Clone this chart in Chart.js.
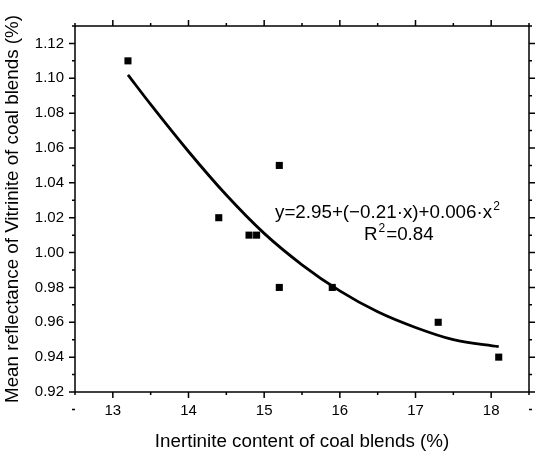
<!DOCTYPE html>
<html>
<head>
<meta charset="utf-8">
<script src="https://cdn.jsdelivr.net/npm/chart.js@4.4.1/dist/chart.umd.min.js"></script>
<style>
html, body { margin: 0; padding: 0; background: #fff; }
#wrap { width: 550px; height: 456px; }
</style>
</head>
<body>
<div id="wrap"><canvas id="chart"></canvas></div>
<script>
// measured blends
const inertinite = [13.2, 14.4, 14.8, 14.9, 15.2, 15.2, 15.9, 17.3, 18.1];
const reflectance = [1.11, 1.02, 1.01, 1.01, 1.05, 0.98, 0.98, 0.96, 0.94];

// fitted curve
const fitX = [13.2, 13.5, 14.0, 14.5, 15.0, 15.5, 16.0, 16.5, 17.0, 17.5, 18.1];
const fitY = [1.102, 1.085, 1.058, 1.033, 1.011, 0.993, 0.978, 0.966, 0.957, 0.950, 0.946];

const xTicks = [13, 14, 15, 16, 17, 18];
const yTicks = [0.92, 0.94, 0.96, 0.98, 1.00, 1.02, 1.04, 1.06, 1.08, 1.10, 1.12];

const FONT = '"Liberation Sans", Arial, sans-serif';
const MAJOR = 6;
const MINOR = 3;

function toPoints(xs, ys) {
    return xs.map(function (x, i) { return { x: x, y: ys[i] }; });
}

function minorOf(ticks) {
    const step = ticks[1] - ticks[0];
    const out = [ticks[0] - step / 2];
    ticks.forEach(function (v) { out.push(v + step / 2); });
    return out;
}

// frame on all four sides with major and minor ticks pointing out
const frameTicks = {
    id: 'frameTicks',
    afterDraw: function (chart) {
        const ctx = chart.ctx;
        const a = chart.chartArea;
        const xs = chart.scales.x;
        const ys = chart.scales.y;

        function xMark(v, len) {
            const px = xs.getPixelForValue(v);
            ctx.moveTo(px, a.bottom);
            ctx.lineTo(px, a.bottom + len);
            ctx.moveTo(px, a.top);
            ctx.lineTo(px, a.top - len);
        }
        function yMark(v, len) {
            const py = ys.getPixelForValue(v);
            ctx.moveTo(a.left, py);
            ctx.lineTo(a.left - len, py);
            ctx.moveTo(a.right, py);
            ctx.lineTo(a.right + len, py);
        }

        ctx.save();
        ctx.strokeStyle = '#000';
        ctx.lineWidth = 1.5;
        ctx.beginPath();
        ctx.rect(a.left, a.top, a.right - a.left, a.bottom - a.top);
        xTicks.forEach(function (v) { xMark(v, MAJOR); });
        yTicks.forEach(function (v) { yMark(v, MAJOR); });
        minorOf(xTicks).forEach(function (v) { xMark(v, MINOR); });
        minorOf(yTicks).forEach(function (v) {
            if (v <= ys.max + 1e-9) yMark(v, MINOR);
        });
        ctx.stroke();
        ctx.restore();
    }
};

const fitLabel = {
    id: 'fitLabel',
    afterDatasetsDraw: function (chart, args, opts) {
        const ctx = chart.ctx;
        const xs = chart.scales.x;
        const ys = chart.scales.y;
        const big = '18.8px ' + FONT;
        const small = '12px ' + FONT;
        ctx.save();
        ctx.fillStyle = '#000';
        ctx.textBaseline = 'alphabetic';
        ctx.textAlign = 'left';

        let x = xs.getPixelForValue(opts.eqAt[0]);
        let y = ys.getPixelForValue(opts.eqAt[1]);
        const eq = 'y=2.95+(\u22120.21\u00b7x)+0.006\u00b7x';
        ctx.font = big;
        ctx.fillText(eq, x, y);
        const w = ctx.measureText(eq).width;
        ctx.font = small;
        ctx.fillText('2', x + w + 1, y - 8);

        x = xs.getPixelForValue(opts.r2At[0]);
        y = ys.getPixelForValue(opts.r2At[1]);
        ctx.font = big;
        ctx.fillText('R', x, y);
        const wr = ctx.measureText('R').width;
        ctx.font = small;
        ctx.fillText('2', x + wr + 1, y - 8);
        const w2 = ctx.measureText('2').width;
        ctx.font = big;
        ctx.fillText('=0.84', x + wr + w2 + 2, y);
        ctx.restore();
    }
};

new Chart(document.getElementById('chart'), {
    type: 'scatter',
    data: {
        datasets: [
            {
                label: 'Blends',
                data: toPoints(inertinite, reflectance),
                pointStyle: 'rect',
                pointRadius: 5,
                borderWidth: 0,
                backgroundColor: '#000',
                borderColor: '#000'
            },
            {
                label: 'Fit',
                data: toPoints(fitX, fitY),
                showLine: true,
                pointRadius: 0,
                borderColor: '#000',
                borderWidth: 2.8,
                cubicInterpolationMode: 'monotone'
            }
        ]
    },
    options: {
        responsive: true,
        maintainAspectRatio: false,
        animation: false,
        layout: { padding: { top: 26, right: 21, left: 0, bottom: 0 } },
        scales: {
            x: {
                type: 'linear',
                min: 12.5,
                max: 18.5,
                afterBuildTicks: function (s) { s.ticks = xTicks.map(function (v) { return { value: v }; }); },
                afterFit: function (s) { s.height = 64; },
                grid: { display: false, drawTicks: true, tickLength: MAJOR },
                border: { display: false },
                ticks: {
                    color: '#000',
                    padding: 4,
                    maxRotation: 0,
                    font: { family: FONT, size: 15 },
                    callback: function (v) { return String(v); }
                },
                title: {
                    display: true,
                    text: 'Inertinite content of coal blends (%)',
                    color: '#000',
                    font: { family: FONT, size: 18.8 },
                    padding: { top: 0, bottom: 3 }
                }
            },
            y: {
                min: 0.92,
                max: 1.13,
                afterBuildTicks: function (s) { s.ticks = yTicks.map(function (v) { return { value: v }; }); },
                afterFit: function (s) { s.width = 75; },
                grid: { display: false, drawTicks: true, tickLength: MAJOR },
                border: { display: false },
                ticks: {
                    color: '#000',
                    padding: 5,
                    font: { family: FONT, size: 15 },
                    callback: function (v) { return Number(v).toFixed(2); }
                },
                title: {
                    display: true,
                    text: 'Mean reflectance of Vitrinite of coal blends (%)',
                    color: '#000',
                    font: { family: FONT, size: 18.8 },
                    padding: { top: 2, bottom: 0 }
                }
            }
        },
        plugins: {
            legend: { display: false },
            tooltip: { enabled: false },
            fitLabel: { eqAt: [15.143, 1.0197], r2At: [16.319, 1.0072] }
        }
    },
    plugins: [frameTicks, fitLabel]
});
</script>
</body>
</html>
